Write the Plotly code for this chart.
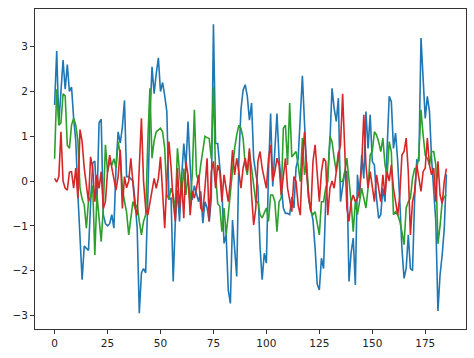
import plotly.graph_objects as go

blue = [1.7, 2.9, 1.3, 1.9, 2.7, 2.05, 2.6, 2.0, 2.1, 1.4,
        0.9, -0.3, -1.3, -2.2, -1.45, -1.5, -1.55, -0.5, 0.4, 0.45,
        -0.5, 1.3, 1.38, -0.75, -0.95, -1.0, -0.95, -0.75, -1.05, 0.3,
        1.1, 0.85, 1.2, 1.8, 0.1, 0.1, 0.05, 0.0, -0.45, -1.05,
        -2.95, -2.05, -1.95, -2.05, -0.4, 1.4, 2.55, 1.95, 2.4, 2.75,
        2.0, 2.2, 1.9, 1.55, -0.4, -0.38, -2.24, -0.9, -0.2, -0.9,
        0.1, 0.84, 0.3, 1.33, 0.36, -0.42, -0.1, -0.3, -0.46, -0.23,
        -0.94, -0.46, -0.6, -0.9, -0.38, 3.5, 0.84, 0.84, 0.25, -0.2,
        -1.39, -1.2, -2.43, -2.73, -0.87, -1.46, -2.13, 0.47, 1.6, 2.03,
        2.15, 1.89, 1.36, 1.74, 0.5, 0.17, -0.12, -1.46, -2.2, -1.61,
        -1.83, 0.2, 1.51, -0.12, 0.8, 1.51, 0.5, -0.1, -0.6, -0.72,
        -0.72, -0.75, -0.35, -0.6, 0.3, 0.5, 1.5, 2.35, 1.3, 0.25,
        -0.4, -0.6, -0.87, -1.5, -2.3, -2.43, -1.72, -1.95, -0.46, 0.2,
        0.88, 2.07, 1.62, 1.33, 1.85, -0.46, -0.16, 0.2, 0.21, -2.24,
        -1.6, -1.27, -2.32, 0.14, -0.38, 0.58, 0.06, 1.55, 0.73, 1.48,
        0.44, 0.36, -0.38, -0.83, -0.75, -0.16, -0.46, 0.58, 1.89, 1.77,
        0.73, 1.07, 0.44, -0.46, -1.5, -2.17, -1.95, -1.2, -1.95, -2.0,
        -0.38, 0.47, 0.44, 3.19, 2.22, 1.4, 1.89, 1.55, 0.5, -0.31,
        -0.9, -2.9, -2.09, -1.65, -1.05, 0.15]

green = [0.5, 2.05, 1.25, 1.3, 1.95, 1.9, 0.8, 0.73, 1.25, 1.4,
         1.25, 0.9, -0.16, -0.4, -0.53, -1.05, -0.45, -0.35, -0.1, -1.65,
         -0.3, -0.9, -1.35, -0.6, 0.81, 0.2, 0.43, 0.35, 0.5, 0.3,
         0.88, 0.6, -0.16, -0.45, -0.7, -1.2, -0.75, -0.46, -0.6, -0.53,
         -0.9, -1.2, -0.9, -0.75, 0.88, 2.07, 0.51, 0.9, 1.1, 1.14,
         1.18, 1.1, 0.73, -0.31, -0.4, -0.16, -0.31, -0.68, 0.73, 0.2,
         -0.31, 0.28, -0.31, 0.14, -0.53, 0.14, 1.59, 0.14, -0.01, 0.36,
         0.73, 1.0, 0.97, 0.95, 0.5, 2.1, 0.2, -0.5, -0.56, -1.13,
         -0.6, -1.2, -0.75, -0.23, 0.36, 0.73, 1.03, 1.25, 1.18, 0.96,
         0.36, 0.14, 0.66, 0.28, -0.16, -0.46, -0.46, -0.75, -0.82, -0.72,
         -0.6, -0.9, -0.31, -0.31, -0.46, -1.13, -0.46, -0.38, 1.18, 1.25,
         0.36, 1.74, 0.54, 0.6, 0.66, 0.36, -0.01, 0.96, 0.14, 0.43,
         -0.38, -0.68, -0.75, -0.68, -0.9, -1.2, -0.46, -0.46, -0.16, -0.01,
         1.0, 0.88, 0.51, 0.21, 0.66, -0.01, -0.01, 0.21, 0.51, 0.06,
         -0.46, -1.13, -0.46, -0.75, -0.46, -0.16, -0.38, -0.6, -0.16, 0.58,
         0.66, 1.1, 1.03, 0.88, 0.66, 0.96, 0.36, 0.14, 0.88, 0.66,
         -0.75, -0.68, -0.75, -0.9, -1.13, -1.42, -0.6, -0.46, -0.38, 0.06,
         0.28, 0.28, 0.58, 1.59, 1.03, 0.58, 0.51, 0.36, 0.66, 0.66,
         0.36, -1.4, -1.0, -0.46, -0.35, -0.31]

red = [0.06, -0.02, 0.1, 1.1, 0.0, -0.16, -0.2, 0.2, 0.21, -0.16,
       0.29, -0.38, 1.15, 0.88, 0.29, -0.08, -0.46, 0.54, 0.29, -0.46,
       0.14, -0.16, 0.21, -0.61, -0.46, 0.21, 0.58, 0.3, 0.0, -0.2,
       0.1, 0.7, -0.61, 0.1, -0.15, 0.0, 0.51, 0.0, -0.6, -0.76,
       0.2, 1.4, 0.0, -0.61, -0.76, -0.46, -0.16, 0.06, -0.16, 0.06,
       0.54, -0.16, -1.05, 0.0, 0.88, 0.3, -0.46, -0.9, 0.29, -0.6,
       0.0, -0.83, 0.43, 0.14, -0.76, -0.23, -0.38, -0.16, 0.14, -0.6,
       -0.68, -0.16, 0.51, -0.9, 0.21, 0.44, -0.16, 0.36, 0.21, -0.46,
       0.14, -0.16, -0.46, 0.0, 0.69, 0.14, 0.51, 0.21, -0.16, 0.29,
       0.51, 0.21, 0.73, -0.31, -0.98, -0.6, 0.44, 0.66, 0.29, 0.06,
       -0.16, 0.51, 0.81, 0.0, 0.21, 0.51, 0.36, -0.31, 0.14, 0.51,
       -0.16, -0.46, -0.68, 0.1, -0.01, -0.53, -0.76, 0.5, 1.1, 0.21,
       -0.38, -0.68, 0.44, 0.81, 0.06, -0.46, 0.21, 0.51, 0.44, -0.76,
       -0.16, 0.0, -0.16, 0.29, 0.58, 0.81, 1.95, 0.7, -0.6, -0.9,
       -0.46, -0.31, -0.46, -0.38, -0.2, 0.36, 1.48, 0.36, -0.16, 0.21,
       -0.16, -0.46, 0.14, -0.16, -0.46, 0.14, -0.31, 0.21, 0.0, 0.36,
       -0.16, -0.46, -0.76, -0.31, 0.58, 0.66, 0.96, 0.21, -1.2, -0.46,
       -0.23, 0.36, 0.0, -0.23, 0.21, 0.29, 0.96, 0.36, 0.14, 0.29,
       -0.46, 0.44, -0.31, -0.5, 0.0, 0.28]

x_ticks = [0, 25, 50, 75, 100, 125, 150, 175]
y_ticks = [-3, -2, -1, 0, 1, 2, 3]
y_tick_labels = ["\u22123", "\u22122", "\u22121", "0", "1", "2", "3"]

fig = go.Figure()
for vals, col in [(blue, "#1f77b4"), (green, "#2ca02c"), (red, "#d62728")]:
    fig.add_trace(go.Scatter(x=list(range(len(vals))), y=vals, mode="lines",
                             line=dict(color=col, width=1.6), showlegend=False,
                             hoverinfo="skip"))

n = len(blue) - 1
axis_common = dict(showgrid=False, zeroline=False, showline=True, mirror=True,
                   linecolor="#333333", linewidth=1, ticks="outside", ticklen=4,
                   tickcolor="#333333", tickwidth=1,
                   tickfont=dict(family="DejaVu Sans", size=10.5, color="#222222"))
fig.update_xaxes(range=[-0.05 * n, 1.05 * n], tickvals=x_ticks, **axis_common)
fig.update_yaxes(range=[-3.30, 3.84], tickvals=y_ticks, ticktext=y_tick_labels, **axis_common)
fig.update_layout(width=474, height=358, margin=dict(l=35, r=8, t=9, b=29),
                  plot_bgcolor="white", paper_bgcolor="white")
fig.write_html("out.html")
